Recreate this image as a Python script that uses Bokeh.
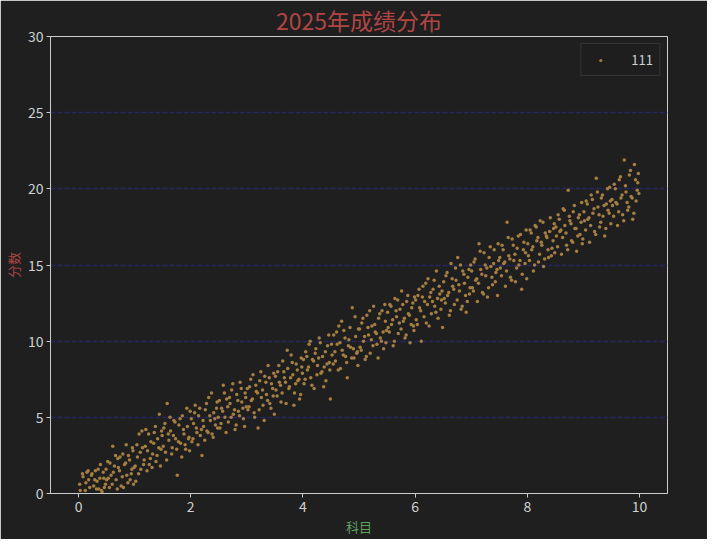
from bokeh.plotting import figure
from bokeh.models import Range1d, FixedTicker, Legend, LegendItem
from bokeh.embed import file_html
from bokeh.resources import INLINE

# valeurs (科目 / 分数)
x_a = [0.02,0.05,0.08,0.12,0.15,0.18,0.21,0.24,0.27,0.30,0.33,0.36,0.39,0.42,0.45,0.48,0.49,
       0.52,0.55,0.58,0.61,0.64,0.67,0.70,0.73,0.76,0.79,0.82,0.85,0.88,0.91,0.94,0.97,0.99,
       1.02,1.05,1.08,1.11,1.14,1.17,1.20,1.23,1.26,1.29,1.32,1.35,1.38,1.41,1.44,1.47,1.49,
       1.52,1.55,1.58,1.61,1.64,1.67,1.70,1.73,1.76,1.79,1.82,1.85,1.88,1.91,1.94,1.97,1.99,
       2.02,2.05,2.08,2.11,2.14,2.17,2.20,2.23,2.26,2.29,2.32,2.35,2.38,2.41,2.44,2.47,2.49,
       2.52,2.55,2.58,2.61,2.64,2.67,2.70,2.73,2.76,2.79,2.82,2.85,2.88,2.91,2.94,2.97,2.99,
       3.02,3.05,3.08,3.11,3.14,3.17,3.20,3.23,3.26,3.29,3.32,3.35,3.38,3.41,3.44,3.47,3.49,
       3.52,3.55,3.58,3.61,3.64,3.67,3.70,3.73,3.76,3.79,3.82,3.85,3.88,3.91,3.94,3.97,3.99,
       4.02,4.05,4.08,4.11,4.14,4.17,4.20,4.23,4.26,4.29,4.32,4.35,4.38,4.41,4.44,4.47,4.49,
       4.52,4.55,4.58,4.61,4.64,4.67,4.70,4.73,4.76,4.79,4.82,4.85,4.88,4.91,4.94,4.97,4.99,
       5.02,5.05,5.08,5.11,5.14,5.17,5.20,5.23,5.26,5.29,5.32,5.35,5.38,5.41,5.44,5.47,5.49,
       5.52,5.55,5.58,5.61,5.64,5.67,5.70,5.73,5.76,5.79,5.82,5.85,5.88,5.91,5.94,5.97,5.99,
       6.02,6.05,6.08,6.11,6.14,6.17,6.20,6.23,6.26,6.29,6.32,6.35,6.38,6.41,6.44,6.47,6.49,
       6.52,6.55,6.58,6.61,6.64,6.67,6.70,6.73,6.76,6.79,6.82,6.85,6.88,6.91,6.94,6.97,6.99,
       7.02,7.05,7.08,7.11,7.14,7.17,7.20,7.23,7.26,7.29,7.32,7.35,7.38,7.41,7.44,7.47,7.49,
       7.52,7.55,7.58,7.61,7.64,7.67,7.70,7.73,7.76,7.79,7.82,7.85,7.88,7.91,7.94,7.97,7.99,
       8.02,8.05,8.08,8.11,8.14,8.17,8.20,8.23,8.26,8.29,8.32,8.35,8.38,8.41,8.44,8.47,8.49,
       8.52,8.55,8.58,8.61,8.64,8.67,8.70,8.73,8.76,8.79,8.82,8.85,8.88,8.91,8.94,8.97,8.99,
       9.02,9.05,9.08,9.11,9.14,9.17,9.20,9.23,9.26,9.29,9.32,9.35,9.38,9.41,9.44,9.47,9.49,
       9.52,9.55,9.58,9.61,9.64,9.67,9.70,9.73,9.76,9.79,9.82,9.85,9.88,9.91,9.94,9.97,9.99]

y_a = [0.6,-0.3,1.1,0.2,1.4,0.9,-0.1,1.3,0.5,1.5,0.8,0.3,1.9,0.1,1.0,0.6,1.6,
       2.1,0.4,1.2,3.1,1.8,0.9,2.3,1.5,0.5,2.6,1.9,3.2,0.7,2.2,1.3,2.8,1.7,
       0.8,2.4,3.9,1.6,3.0,2.2,4.2,2.8,1.9,3.4,2.6,4.0,2.1,3.6,5.2,2.9,3.8,
       4.3,2.7,5.9,3.5,4.1,3.0,4.8,3.6,1.2,4.5,3.3,5.1,3.9,2.9,4.4,3.7,5.4,
       3.4,4.6,5.8,4.0,5.1,3.8,2.5,4.4,5.5,4.1,6.3,4.8,3.9,5.3,4.5,6.0,5.0,
       4.3,5.6,7.1,5.0,6.2,4.7,5.9,6.8,5.2,4.2,6.5,5.4,7.3,6.0,4.9,6.6,5.7,
       5.5,7.0,6.1,7.8,5.0,6.7,4.3,7.4,6.3,5.8,7.7,6.5,8.4,5.9,7.2,6.4,5.2,
       6.8,8.0,7.3,6.0,8.7,7.6,5.9,8.2,7.0,9.1,7.8,6.6,8.5,7.4,6.2,8.9,7.9,
       7.2,9.3,8.1,9.8,7.6,8.8,6.9,9.5,8.4,10.2,7.9,9.0,8.3,7.4,9.7,8.6,6.2,
       9.1,10.4,8.7,9.8,11.0,8.2,9.4,10.7,9.0,7.6,10.1,9.6,12.2,8.9,10.3,9.3,10.8,
       9.6,11.2,10.0,8.8,11.7,10.4,9.2,11.0,12.3,10.6,9.8,11.5,10.2,12.0,9.5,11.3,10.7,
       10.9,12.4,11.1,9.7,12.8,11.6,10.5,12.1,13.3,11.3,10.2,12.6,11.8,9.9,12.2,11.0,12.9,
       11.4,13.0,12.2,10.0,13.6,12.6,11.2,14.1,12.9,11.8,13.4,12.3,14.6,11.5,13.1,12.7,10.9,
       12.8,14.3,13.0,11.7,15.1,13.6,12.4,14.0,15.5,13.3,12.1,14.6,13.8,11.9,14.2,13.1,15.0,
       13.5,15.2,14.0,12.6,16.4,14.7,13.2,15.8,14.3,12.9,15.5,14.9,13.7,16.0,14.5,13.0,15.3,
       14.8,16.3,15.1,13.6,17.8,15.6,14.2,16.7,15.3,13.9,16.1,15.0,17.0,14.4,16.5,15.8,14.1,
       15.6,17.3,16.0,14.6,17.6,16.6,15.2,17.9,16.3,14.9,17.1,16.8,15.5,18.1,16.1,17.4,15.8,
       16.9,18.3,17.2,15.7,18.7,17.6,16.3,19.9,17.9,16.6,18.5,17.4,15.9,18.1,17.0,19.1,16.7,
       17.9,19.2,18.0,16.5,19.6,18.4,17.2,20.7,18.8,17.5,19.4,18.2,16.9,19.0,18.6,20.1,17.7,
       18.9,20.3,19.1,17.6,20.6,19.4,18.3,21.9,19.8,18.6,20.9,19.5,18.0,21.6,19.2,20.4,19.7]

x_b = [0.03,0.07,0.10,0.13,0.17,0.20,0.23,0.26,0.29,0.32,0.35,0.38,0.41,0.44,0.46,0.47,0.50,
       0.53,0.56,0.60,0.62,0.66,0.69,0.71,0.74,0.78,0.80,0.84,0.86,0.89,0.92,0.95,0.96,0.98,
       1.01,1.04,1.07,1.10,1.13,1.16,1.19,1.22,1.25,1.28,1.31,1.34,1.37,1.40,1.43,1.46,1.48,
       1.51,1.54,1.57,1.60,1.63,1.66,1.69,1.72,1.75,1.78,1.81,1.84,1.87,1.90,1.93,1.96,1.98,
       2.01,2.04,2.07,2.10,2.13,2.16,2.19,2.22,2.25,2.28,2.31,2.34,2.37,2.40,2.43,2.46,2.48,
       2.51,2.54,2.57,2.60,2.63,2.66,2.69,2.72,2.75,2.78,2.81,2.84,2.87,2.90,2.93,2.96,2.98,
       3.01,3.04,3.07,3.10,3.13,3.16,3.19,3.22,3.25,3.28,3.31,3.34,3.37,3.40,3.43,3.46,3.48,
       3.51,3.54,3.57,3.60,3.63,3.66,3.69,3.72,3.75,3.78,3.81,3.84,3.87,3.90,3.93,3.96,3.98,
       4.01,4.04,4.07,4.10,4.13,4.16,4.19,4.22,4.25,4.28,4.31,4.34,4.37,4.40,4.43,4.46,4.48,
       4.51,4.54,4.57,4.60,4.63,4.66,4.69,4.72,4.75,4.78,4.81,4.84,4.87,4.90,4.93,4.96,4.98,
       5.01,5.04,5.07,5.10,5.13,5.16,5.19,5.22,5.25,5.28,5.31,5.34,5.37,5.40,5.43,5.46,5.48,
       5.51,5.54,5.57,5.60,5.63,5.66,5.69,5.72,5.75,5.78,5.81,5.84,5.87,5.90,5.93,5.96,5.98,
       6.01,6.04,6.07,6.10,6.13,6.16,6.19,6.22,6.25,6.28,6.31,6.34,6.37,6.40,6.43,6.46,6.48,
       6.51,6.54,6.57,6.60,6.63,6.66,6.69,6.72,6.75,6.78,6.81,6.84,6.87,6.90,6.93,6.96,6.98,
       7.01,7.04,7.07,7.10,7.13,7.16,7.19,7.22,7.25,7.28,7.31,7.34,7.37,7.40,7.43,7.46,7.48,
       7.51,7.54,7.57,7.60,7.63,7.66,7.69,7.72,7.75,7.78,7.81,7.84,7.87,7.90,7.93,7.96,7.98,
       8.01,8.04,8.07,8.10,8.13,8.16,8.19,8.22,8.25,8.28,8.31,8.34,8.37,8.40,8.43,8.46,8.48,
       8.51,8.54,8.57,8.60,8.63,8.66,8.69,8.72,8.75,8.78,8.81,8.84,8.87,8.90,8.93,8.96,8.98,
       9.01,9.04,9.07,9.10,9.13,9.16,9.19,9.22,9.25,9.28,9.31,9.34,9.37,9.40,9.43,9.46,9.48,
       9.51,9.54,9.57,9.60,9.63,9.66,9.69,9.72,9.75,9.78,9.81,9.84,9.87,9.90,9.93,9.96,9.98]

y_b = [0.2,1.3,-0.4,0.7,1.5,0.4,1.2,-0.2,0.9,0.3,1.6,1.0,0.2,1.4,0.4,-0.3,0.9,
       1.0,2.0,0.6,1.4,2.5,0.3,1.7,2.4,1.1,0.4,2.0,1.2,2.5,0.9,1.6,3.0,0.6,
       1.8,3.2,1.3,2.7,4.1,1.9,3.1,1.5,3.9,2.3,1.7,3.3,4.4,2.5,3.0,1.8,4.1,
       3.1,4.6,2.2,3.9,5.0,2.6,3.8,4.7,2.9,3.4,4.9,2.4,4.2,3.2,5.6,3.6,2.8,
       4.9,3.6,5.3,4.3,3.2,5.6,4.2,4.8,3.5,5.9,4.0,5.1,6.6,3.7,4.9,5.6,4.3,
       6.1,4.6,5.4,6.6,4.0,5.7,6.3,5.0,7.2,5.5,4.5,6.1,5.1,6.9,5.6,4.4,6.3,
       6.9,5.7,7.5,6.2,5.3,7.1,6.6,5.5,8.0,6.8,4.8,7.3,6.1,7.6,5.6,6.9,7.9,
       7.7,6.4,8.4,7.1,6.6,8.0,7.3,9.4,6.9,7.6,8.6,5.8,7.2,8.1,7.5,6.5,8.3,
       8.8,7.5,9.0,8.3,10.0,7.1,8.7,9.2,7.8,8.9,9.9,8.0,7.0,9.3,8.5,10.4,8.1,
       9.8,8.5,9.3,10.6,8.1,9.9,11.3,9.1,10.2,8.6,9.7,10.9,8.9,9.5,11.6,9.2,8.4,
       10.8,9.4,11.5,10.3,9.0,10.9,12.0,10.1,9.7,11.1,10.5,8.9,11.8,10.0,10.6,12.4,9.9,
       11.9,10.6,12.3,11.4,10.0,12.0,12.7,11.2,10.8,12.4,11.5,10.4,13.0,11.7,11.1,12.5,10.7,
       12.7,11.1,13.4,12.0,12.9,11.6,13.8,12.4,11.0,13.2,12.6,14.0,11.9,12.8,13.6,12.1,13.3,
       13.9,12.5,14.5,13.2,12.0,14.1,13.4,14.8,12.7,13.7,15.0,12.3,14.4,13.0,12.6,14.7,13.5,
       14.6,13.3,15.4,14.1,13.8,15.9,14.4,13.1,15.0,14.8,13.5,16.2,14.2,15.1,13.9,14.7,16.4,
       15.5,14.3,16.0,15.2,14.6,16.8,15.4,14.0,16.3,15.7,14.8,16.9,15.3,13.4,16.0,15.1,17.3,
       16.4,15.3,17.1,16.2,15.0,17.5,16.8,15.7,16.5,17.8,15.4,16.9,16.0,17.2,15.6,16.6,17.7,
       17.5,16.2,18.0,17.3,16.8,18.6,17.1,16.0,18.2,17.7,16.5,18.9,17.4,16.9,18.3,17.8,16.4,
       18.5,17.3,19.0,18.1,17.6,19.3,18.7,17.0,19.8,18.3,17.8,19.6,18.9,17.4,20.0,18.4,19.2,
       19.3,18.2,20.0,19.0,18.5,20.8,19.6,17.9,20.2,19.1,18.8,21.2,19.4,18.4,20.6,19.9,21.0]

x_ticks = [0, 2, 4, 6, 8, 10]
y_ticks = [0, 5, 10, 15, 20, 25, 30]

bg = "#1f1f1f"
fnt = "Noto Sans CJK SC"

p = figure(width=707, height=539, output_backend="svg", toolbar_location=None,
           x_range=Range1d(-0.5, 10.5), y_range=Range1d(0, 30),
           title="2025年成绩分布", x_axis_label="科目", y_axis_label="分数")
p.background_fill_color = bg
p.border_fill_color = bg
p.outline_line_color = "#cccccc"
p.min_border_left = 46
p.min_border_right = 40
p.min_border_top = 0
p.min_border_bottom = 46

p.title.text_color = "#b04545"
p.title.text_font = fnt
p.title.text_font_size = "23px"
p.title.text_font_style = "normal"
p.title.align = "center"
p.title.standoff = 0

for ax in [p.xaxis[0], p.yaxis[0]]:
    ax.axis_line_color = "#cccccc"
    ax.major_tick_line_color = "#cccccc"
    ax.major_tick_out = 4
    ax.major_tick_in = 0
    ax.minor_tick_line_color = None
    ax.major_label_text_color = "#d0d0d0"
    ax.major_label_text_font = fnt
    ax.major_label_text_font_size = "14px"
    ax.major_label_standoff = 3
    ax.axis_label_text_font = fnt
    ax.axis_label_text_font_size = "13px"
    ax.axis_label_text_font_style = "normal"
    ax.axis_label_standoff = 2
p.xaxis[0].ticker = FixedTicker(ticks=x_ticks)
p.yaxis[0].ticker = FixedTicker(ticks=y_ticks)
p.xaxis[0].axis_label_text_color = "#5f9f5f"
p.yaxis[0].axis_label_text_color = "#b04545"

p.xgrid.grid_line_color = None
p.ygrid.grid_line_color = "#262660"
p.ygrid.grid_line_dash = "5 2"
p.ygrid.grid_line_width = 1.5

pts = p.scatter(x_a + x_b, y_a + y_b, size=3.5, fill_color="#a57e42", line_color=None)

leg = Legend(items=[LegendItem(label="111", renderers=[pts])], location="top_right")
leg.background_fill_color = bg
leg.border_line_color = "#4a4a4a"
leg.label_text_color = "#d0d0d0"
leg.label_text_font = fnt
leg.label_text_font_size = "13px"
leg.glyph_width = 26
leg.glyph_height = 8
leg.label_standoff = 18
leg.padding = 6
leg.margin = 7
p.add_layout(leg)

open("out.html", "w").write(file_html(p, INLINE))
